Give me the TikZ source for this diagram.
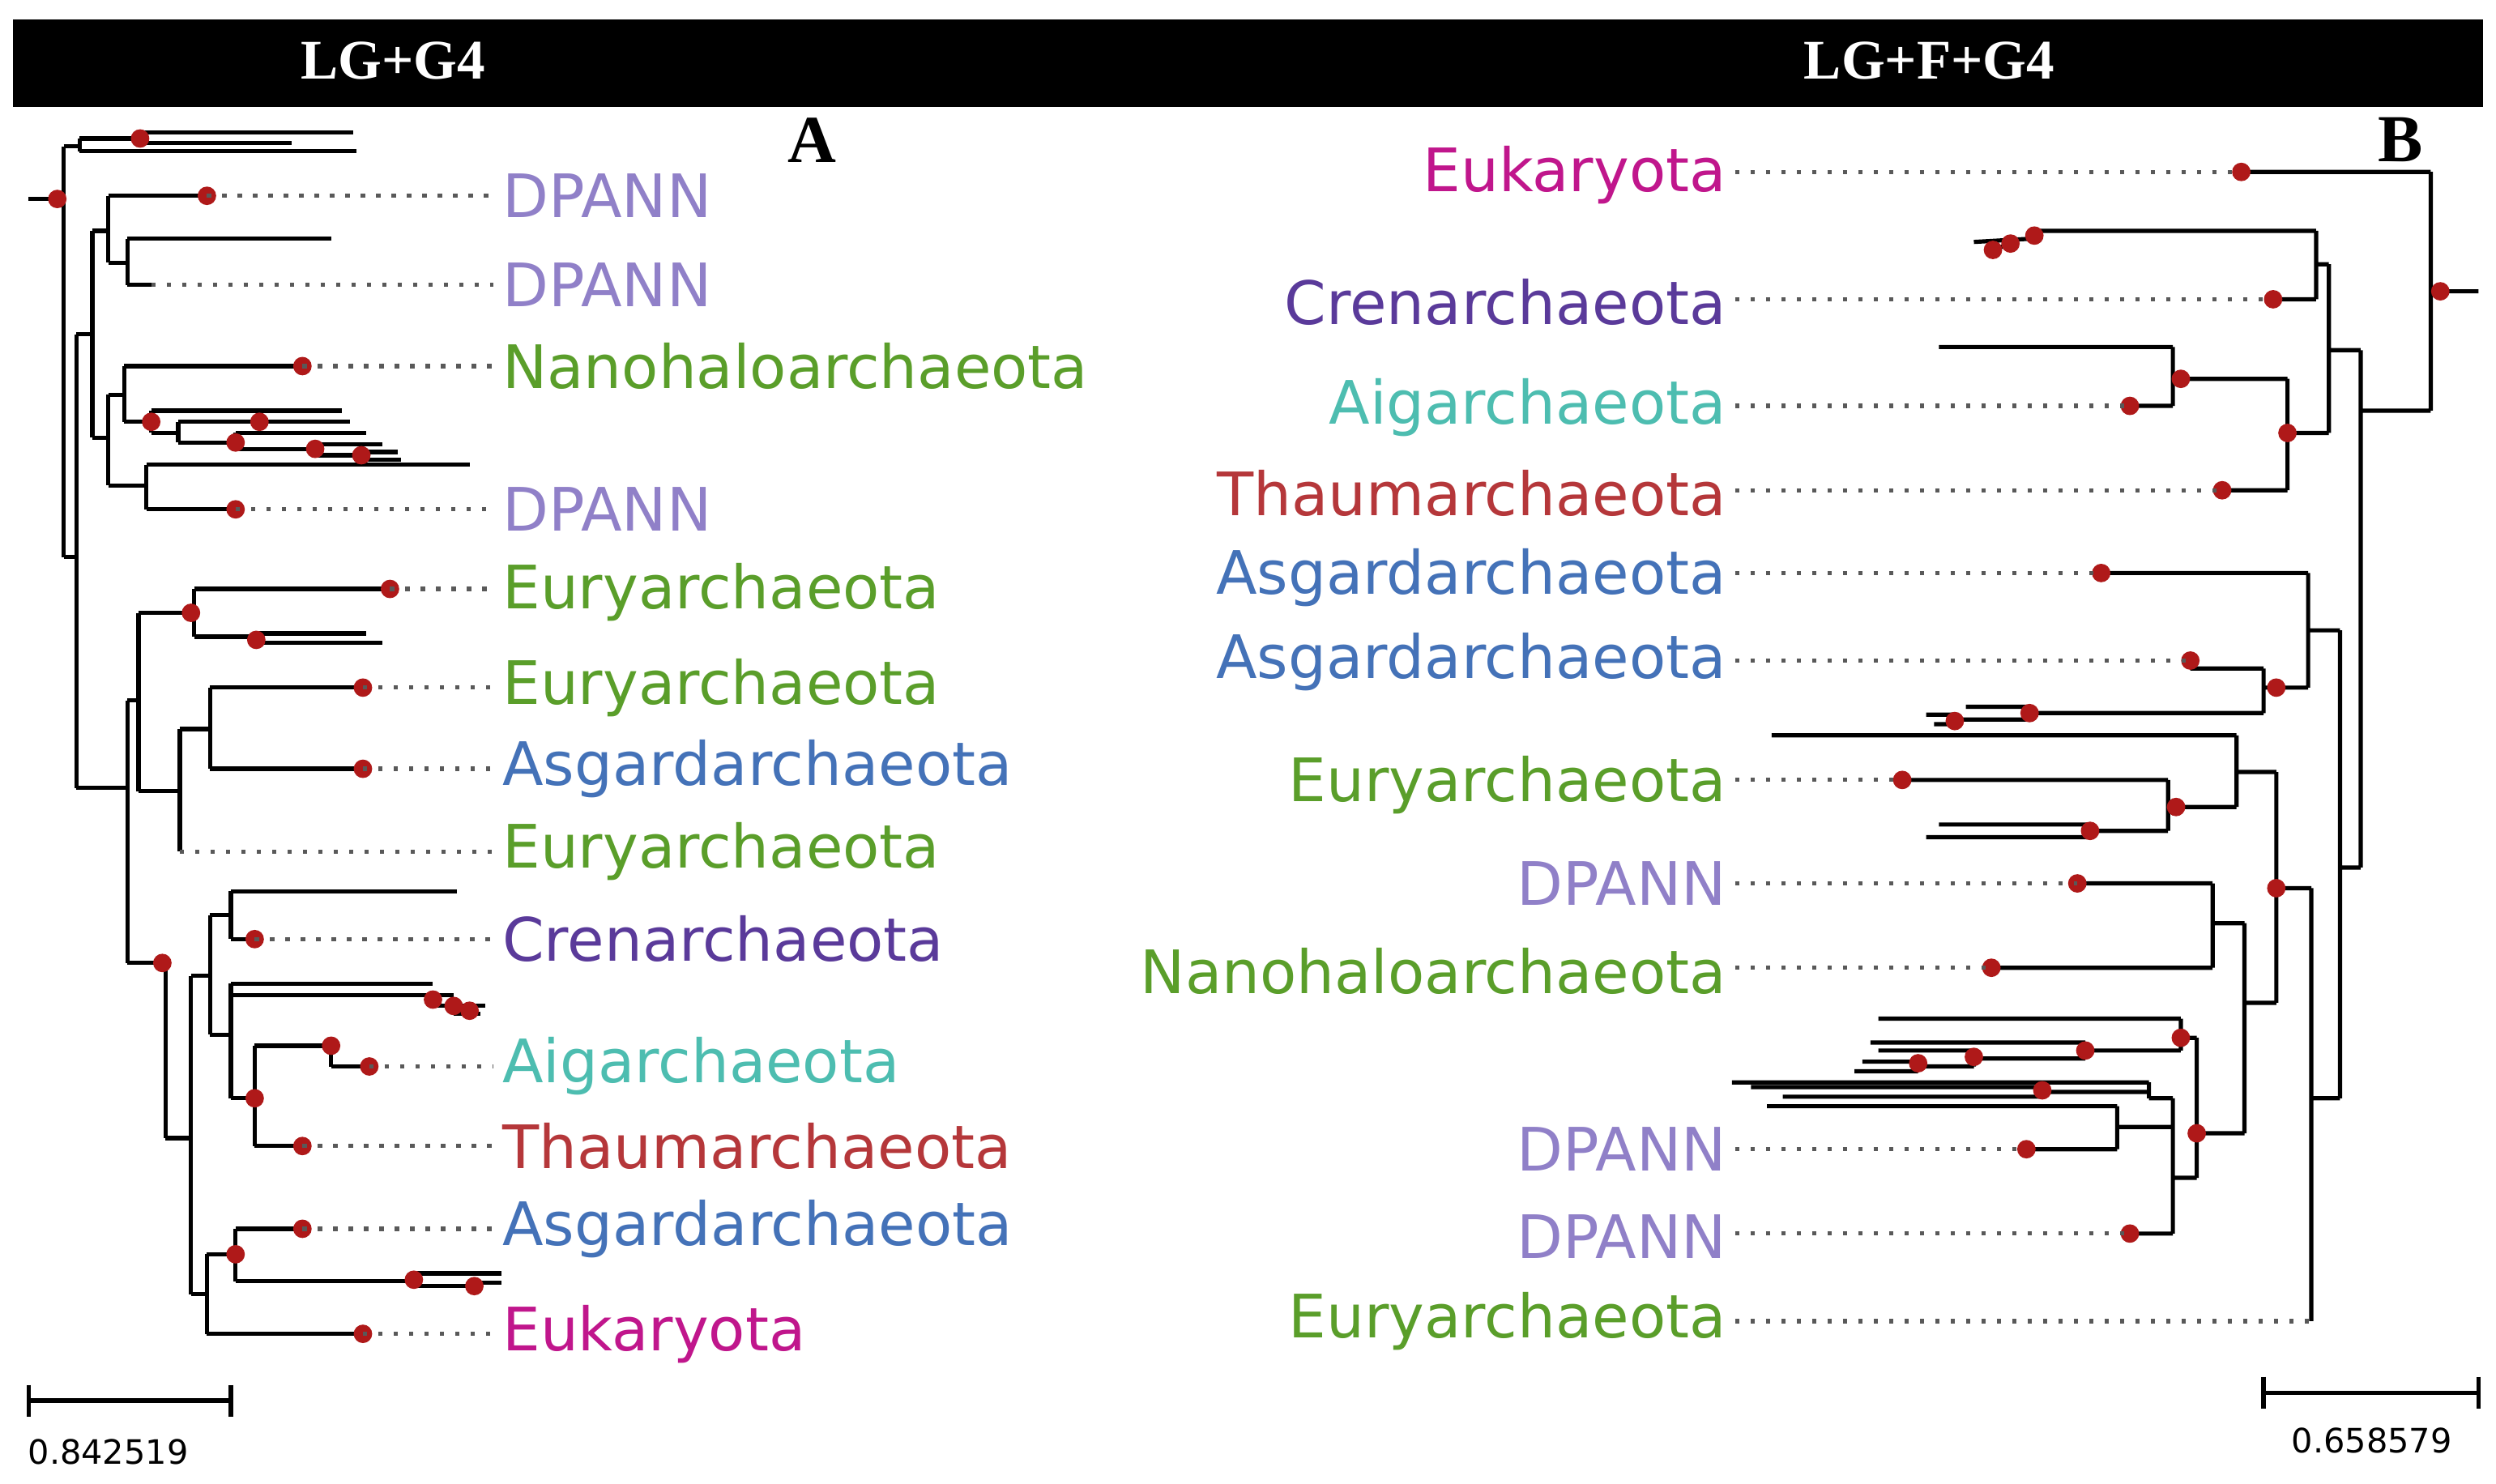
\documentclass[tikz,border=0pt]{standalone}
\usepackage{fontspec}
\setmainfont{Liberation Serif}
\newfontfamily\lab{DejaVu Sans}
\begin{document}
\begin{tikzpicture}[x=0.01cm,y=-0.01cm,
 br/.style={line width=0.75pt,black},
 dl/.style={dotted,line width=0.75pt,gray!70!black},
 lbl/.style={font=\lab\fontsize{10.7}{12}\selectfont,inner sep=0pt},
 dt/.style={circle,fill=red!65!black!90,inner sep=0pt,minimum size=3.3pt}]
\definecolor{dp}{HTML}{9080C8}\definecolor{gr}{HTML}{5A9E2A}\definecolor{as}{HTML}{4472B8}
\definecolor{cr}{HTML}{5A3A9A}\definecolor{ai}{HTML}{4DBDB0}\definecolor{th}{HTML}{B5373A}\definecolor{eu}{HTML}{C0168C}
\useasboundingbox (0,0) rectangle (1568,932);
\fill[white] (0,0) rectangle (1568,932);
\fill[black] (8,12) rectangle (1560,67);
\node[text=white,font=\bfseries\fontsize{10}{10}\selectfont] at (247,38) {LG+G4};
\node[text=white,font=\bfseries\fontsize{10}{10}\selectfont] at (1212,38) {LG+F+G4};
\node[font=\bfseries\fontsize{12}{12}\selectfont] at (510,88) {A};
\node[font=\bfseries\fontsize{12}{12}\selectfont] at (1508,88) {B};
% ---------- Tree A
\draw[br] (18,125)--(40,125) (40,92)--(40,350) (40,92)--(50,92) (50,87)--(50,95)
 (50,87)--(88,87) (88,83)--(88,90) (88,83)--(222,83) (88,90)--(183,90) (50,95)--(224,95)
 (68,123)--(68,165) (68,123)--(130,123) (68,165)--(80,165) (80,150)--(80,179) (80,150)--(208,150) (80,179)--(95,179)
 (78,230)--(78,265) (78,230)--(190,230) (78,265)--(95,265) (95,258)--(95,272) (95,258)--(215,258) (95,272)--(112,272)
 (112,265)--(112,278) (112,265)--(220,265) (112,278)--(148,278) (148,272)--(148,282) (148,272)--(230,272) (148,282)--(198,282)
 (198,279)--(198,286) (198,279)--(240,279) (198,286)--(227,286) (227,284)--(227,289) (227,284)--(250,284) (227,289)--(252,289)
 (92,292)--(92,320) (92,292)--(295,292) (92,320)--(148,320)
 (68,248)--(68,305) (68,248)--(78,248) (68,305)--(92,305)
 (58,145)--(58,275) (58,145)--(68,145) (58,275)--(68,275)
 (40,350)--(48,350) (48,210)--(48,495) (48,210)--(58,210) (48,495)--(80,495)
 (122,370)--(122,400) (122,370)--(245,370) (122,400)--(161,400) (161,398)--(230,398) (161,404)--(240,404) (161,398)--(161,404)
 (87,385)--(122,385) (87,385)--(87,497)
 (132,432)--(132,483) (132,432)--(228,432) (132,483)--(228,483) (113,458)--(132,458) (113,458)--(113,535) (87,497)--(113,497)
 (80,440)--(87,440) (80,440)--(80,605) (80,605)--(104,605) (104,605)--(104,715) (104,715)--(120,715)
 (145,560)--(145,590) (145,560)--(287,560) (145,590)--(160,590)
 (145,618)--(145,690) (145,618)--(160,618) (160,618)--(272,618) (145,625)--(285,625) (272,628)--(272,632) (272,632)--(305,632) (285,637)--(302,637)
 (160,657)--(160,720) (160,657)--(208,657) (208,657)--(208,670) (208,670)--(232,670) (160,720)--(190,720) (145,690)--(160,690)
 (132,575)--(132,650) (132,575)--(145,575) (132,650)--(145,650)
 (148,772)--(148,805) (148,772)--(190,772) (148,805)--(260,805) (260,800)--(315,800) (260,808)--(300,808) (300,806)--(315,806)
 (130,788)--(130,838) (130,788)--(148,788) (130,838)--(228,838)
 (120,613)--(120,813) (120,613)--(132,613) (120,813)--(130,813);
\foreach \p in {(88,87),(36,125),(130,123),(190,230),(95,265),(163,265),(148,278),(198,282),(227,286),(148,320),(120,385),(245,370),(161,402),(228,432),(228,483),(160,590),(272,628),(285,632),(295,635),(208,657),(232,670),(160,690),(190,720),(102,605),(190,772),(148,788),(260,804),(298,808),(228,838)}
 \node[dt] at \p {};
\foreach \x/\y in {130/123,95/179,190/230,148/320,245/370,228/432,228/483,113/535,160/590,232/670,190/720,190/772,228/838}
 \draw[dl] (\x,\y)--(310,\y);
\foreach \y/\t/\c in {123/DPANN/dp,179/DPANN/dp,230/Nanohaloarchaeota/gr,320/DPANN/dp,372/Euryarchaeota/gr,432/Euryarchaeota/gr,483/Asgardarchaeota/as,535/Euryarchaeota/gr,590/Crenarchaeota/cr,670/Aigarchaeota/ai,720/Thaumarchaeota/th,772/Asgardarchaeota/as,838/Eukaryota/eu}
 \node[lbl,anchor=west,text=\c] at (315,\y) {\t};
\draw[line width=0.8pt] (18,880)--(145,880) (18,870)--(18,890) (145,870)--(145,890);
\node[font=\lab\fontsize{6}{6}\selectfont] at (68,912) {0.842519};
% ---------- Tree B
\draw[br] (1557,183)--(1527,183) (1527,108)--(1527,258) (1527,108)--(1408,108) (1527,258)--(1483,258)
 (1483,220)--(1483,545) (1483,220)--(1463,220) (1463,166)--(1463,272) (1463,166)--(1455,166)
 (1455,145)--(1455,188) (1455,145)--(1275,145) (1455,188)--(1428,188) (1275,145)--(1275,150) (1275,150)--(1240,152) (1263,153)--(1252,157)
 (1463,272)--(1437,272) (1437,238)--(1437,308) (1437,238)--(1370,238) (1365,218)--(1365,255) (1365,218)--(1218,218) (1365,255)--(1338,255) (1437,308)--(1396,308)
 (1483,545)--(1470,545) (1470,396)--(1470,690) (1470,396)--(1450,396)
 (1450,360)--(1450,432) (1450,360)--(1320,360) (1450,432)--(1422,432) (1422,420)--(1422,448) (1422,420)--(1376,420) (1422,448)--(1275,448)
 (1275,444)--(1235,444) (1275,452)--(1228,452) (1228,449)--(1210,449) (1228,455)--(1215,455)
 (1470,690)--(1452,690) (1452,558)--(1452,830) (1452,558)--(1430,558) (1430,485)--(1430,630) (1430,485)--(1405,485)
 (1405,462)--(1405,507) (1405,462)--(1113,462) (1405,507)--(1362,507) (1362,490)--(1362,522) (1362,490)--(1195,490) (1362,522)--(1313,522)
 (1313,518)--(1218,518) (1313,526)--(1210,526) (1313,518)--(1313,526)
 (1430,630)--(1410,630) (1410,580)--(1410,712) (1410,580)--(1390,580) (1390,555)--(1390,608) (1390,555)--(1305,555) (1390,608)--(1251,608)
 (1410,712)--(1380,712) (1380,652)--(1380,740) (1380,652)--(1370,652) (1370,640)--(1370,660) (1370,640)--(1180,640) (1370,660)--(1310,660)
 (1310,655)--(1310,665) (1310,655)--(1175,655) (1310,665)--(1240,665) (1240,660)--(1240,670) (1240,660)--(1180,660) (1240,670)--(1205,670)
 (1205,667)--(1170,667) (1205,673)--(1165,673)
 (1380,740)--(1365,740) (1365,690)--(1365,775) (1365,690)--(1350,690) (1350,680)--(1350,690) (1350,680)--(1088,680) (1350,686)--(1283,686)
 (1283,683)--(1100,683) (1283,689)--(1120,689) (1365,708)--(1330,708) (1330,695)--(1330,722) (1330,695)--(1110,695) (1330,722)--(1273,722)
 (1365,775)--(1338,775);
\foreach \p in {(1533,183),(1408,108),(1252,157),(1263,153),(1278,148),(1428,188),(1370,238),(1338,255),(1437,272),(1396,308),(1320,360),(1376,415),(1430,432),(1275,448),(1228,453),(1195,490),(1367,507),(1313,522),(1305,555),(1430,558),(1251,608),(1370,652),(1310,660),(1240,664),(1205,668),(1283,685),(1380,712),(1273,722),(1338,775)}
 \node[dt] at \p {};
\foreach \x/\y in {1408/108,1428/188,1338/255,1396/308,1320/360,1376/415,1195/490,1305/555,1251/608,1273/722,1338/775,1452/830}
 \draw[dl] (1090,\y)--(\x,\y);
\foreach \y/\t/\c in {110/Eukaryota/eu,190/Crenarchaeota/cr,256/Aigarchaeota/ai,310/Thaumarchaeota/th,363/Asgardarchaeota/as,416/Asgardarchaeota/as,493/Euryarchaeota/gr,555/DPANN/dp,610/Nanohaloarchaeota/gr,722/DPANN/dp,777/DPANN/dp,830/Euryarchaeota/gr}
 \node[lbl,anchor=east,text=\c] at (1085,\y) {\t};
\draw[line width=0.8pt] (1422,875)--(1557,875) (1422,865)--(1422,885) (1557,865)--(1557,885);
\node[font=\lab\fontsize{6}{6}\selectfont] at (1490,905) {0.658579};
\end{tikzpicture}
\end{document}
